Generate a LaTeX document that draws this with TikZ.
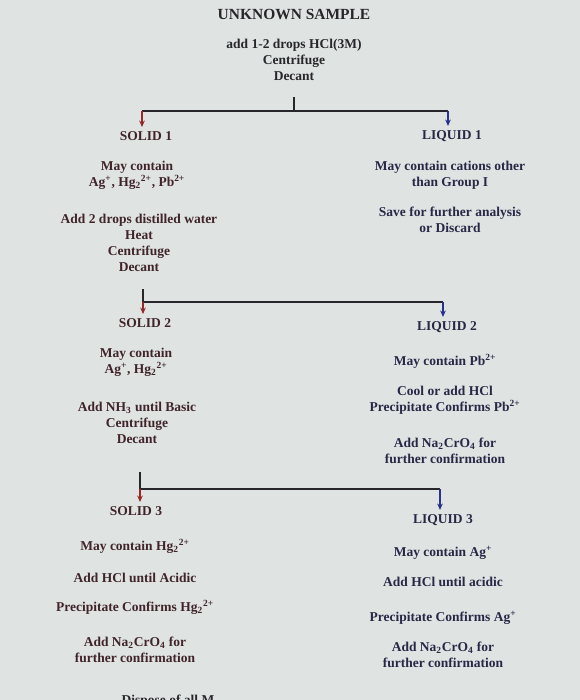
\documentclass[tikz,border=0pt]{standalone}
\usepackage{fontspec}
\setmainfont{Liberation Serif}
\usetikzlibrary{arrows.meta,positioning}
\definecolor{paper}{RGB}{223,228,227}
\definecolor{ink}{RGB}{40,38,42}
\definecolor{solidink}{RGB}{64,36,42}
\definecolor{liquidink}{RGB}{40,40,70}
\definecolor{solidred}{RGB}{150,40,40}
\definecolor{liquidblue}{RGB}{40,50,140}
\tikzset{
  >={Stealth[length=1.6mm,width=1.4mm]},
  txt/.style={text=#1,align=center,inner sep=1pt,
    font=\fontsize{9.6}{11.3}\selectfont\bfseries},
  txt/.default=solidink,
  head/.style={txt=#1},
  head/.default=solidink,
  bar/.style={draw=ink,line width=1.3pt},
  drop/.style={->,draw=#1,line width=1.1pt,shorten >=2pt},
  drop/.default=solidred,
}

\begin{document}
\begin{tikzpicture}[x=0.025cm,y=-0.025cm]
  \useasboundingbox (0,0) rectangle (580,700);
  \clip (0,0) rectangle (580,700);
  \fill[paper] (0,0) rectangle (580,700);

  % start
  \node[text=ink,font=\fontsize{11}{13}\selectfont\bfseries] (title) at (294,14) {UNKNOWN SAMPLE};
  \node[txt=ink] (stepA) at (294,60) {add 1-2 drops HCl(3M)\\Centrifuge\\Decant};

  % first separation
  \node[head] (solidA) at (146,136) {SOLID 1};
  \node[txt] (solidAmay) at (137,175) {May contain\\Ag\textsuperscript{+}, Hg\textsubscript{2}\textsuperscript{2+}, Pb\textsuperscript{2+}};
  \node[txt] (solidAstep) at (139,243) {Add 2 drops distilled water\\Heat\\Centrifuge\\Decant};
  \node[head=liquidink] (liquidA) at (452,136) {LIQUID 1};
  \node[txt=liquidink] (liquidAmay) at (450,175) {May contain cations other\\than Group I};
  \node[txt=liquidink] (liquidAsave) at (450,220) {Save for further analysis\\or Discard};

  % second separation
  \node[head] (solidB) at (145,323) {SOLID 2};
  \node[txt] (solidBmay) at (136,362) {May contain\\Ag\textsuperscript{+}, Hg\textsubscript{2}\textsuperscript{2+}};
  \node[txt] (solidBstep) at (137,423) {Add NH\textsubscript{3} until Basic\\Centrifuge\\Decant};
  \node[head=liquidink] (liquidB) at (447,327) {LIQUID 2};
  \node[txt=liquidink] (liquidBmay) at (445,361) {May contain Pb\textsuperscript{2+}};
  \node[txt=liquidink] (liquidBtest) at (445,400) {Cool or add HCl\\Precipitate Confirms Pb\textsuperscript{2+}};
  \node[txt=liquidink] (liquidBconf) at (445,451) {Add Na\textsubscript{2}CrO\textsubscript{4} for\\further confirmation};

  % third separation
  \node[head] (solidC) at (136,511) {SOLID 3};
  \node[txt] (solidCmay) at (135,546) {May contain Hg\textsubscript{2}\textsuperscript{2+}};
  \node[txt] (solidCadd) at (135,578) {Add HCl until Acidic};
  \node[txt] (solidCtest) at (135,607) {Precipitate Confirms Hg\textsubscript{2}\textsuperscript{2+}};
  \node[txt] (solidCconf) at (135,650) {Add Na\textsubscript{2}CrO\textsubscript{4} for\\further confirmation};
  \node[head=liquidink] (liquidC) at (443,520) {LIQUID 3};
  \node[txt=liquidink] (liquidCmay) at (443,553) {May contain Ag\textsuperscript{+}};
  \node[txt=liquidink] (liquidCadd) at (443,582) {Add HCl until acidic};
  \node[txt=liquidink] (liquidCtest) at (443,618) {Precipitate Confirms Ag\textsuperscript{+}};
  \node[txt=liquidink] (liquidCconf) at (443,655) {Add Na\textsubscript{2}CrO\textsubscript{4} for\\further confirmation};

  \node[txt=ink,anchor=base west] (dispose) at (120,704) {Dispose of all M};

  % forks
  \foreach \n/\x/\t/\y/\l/\r in {A/294/97/111/142/448, B/143/289/302/143/443, C/140/472/489/140/440}{
    \coordinate (top\n) at (\x,\t);
    \coordinate (left\n) at (\l,\y);
    \coordinate (right\n) at (\r,\y);
    \draw[bar] (top\n) -- (top\n |- left\n);
    \draw[bar] (left\n) -- (right\n);
    \draw[drop] (left\n) -- (left\n |- solid\n.north);
    \draw[drop=liquidblue] (right\n) -- (right\n |- liquid\n.north);
  }
\end{tikzpicture}
\end{document}
